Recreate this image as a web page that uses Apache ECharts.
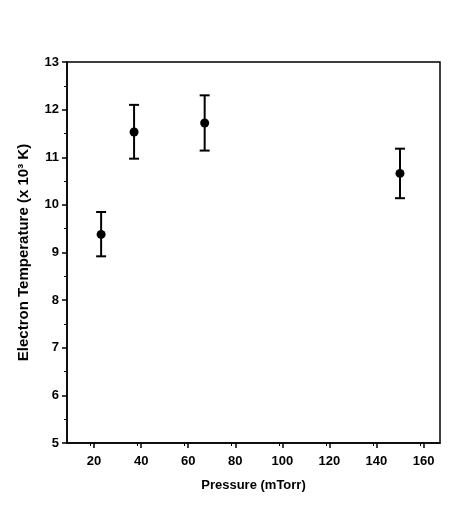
<!DOCTYPE html>
<html>
<head>
<meta charset="utf-8">
<script src="https://cdn.jsdelivr.net/npm/echarts@6/dist/echarts.min.js"></script>
<style>html,body{margin:0;padding:0;background:#fff}#c{width:474px;height:531px}</style>
</head>
<body>
<div id="c"></div>
<script>
var pressure = [23, 37, 67, 150];
var temperature = [9.38, 11.53, 11.72, 10.66];
var errHigh = [9.85, 12.1, 12.3, 11.18];
var errLow = [8.92, 10.97, 11.14, 10.14];
var xTicks = [20, 40, 60, 80, 100, 120, 140, 160];

var chart = echarts.init(document.getElementById('c'));
var font = 'Liberation Sans';
var points = pressure.map(function (p, i) { return [p, temperature[i]]; });
var bars = pressure.map(function (p, i) { return [p, errLow[i], errHigh[i]]; });

function axisCommon() {
    return {
        axisLine: {onZero: false, lineStyle: {color: '#000', width: 1.5}},
        axisTick: {inside: false, length: 5, lineStyle: {color: '#000', width: 1.5}},
        minorTick: {show: true, length: 3, splitNumber: 2, lineStyle: {color: '#000', width: 1}},
        splitLine: {show: false},
        axisLabel: {color: '#000', fontFamily: font, fontWeight: 'bold', fontSize: 13}
    };
}

var xAxis = Object.assign(axisCommon(), {
    type: 'value', min: 8.5, max: 167, interval: 20,
    name: 'Pressure (mTorr)', nameLocation: 'middle', nameGap: 36,
    nameTextStyle: {color: '#000', fontFamily: font, fontWeight: 'bold', fontSize: 13}
});
xAxis.axisLabel.customValues = xTicks;
xAxis.axisTick.customValues = xTicks;
xAxis.axisLabel.margin = 12;

var yAxis = Object.assign(axisCommon(), {
    type: 'value', min: 5, max: 13, interval: 1,
    name: 'Electron Temperature (x 10³ K)', nameLocation: 'middle', nameGap: 36,
    nameTextStyle: {color: '#000', fontFamily: font, fontWeight: 'bold', fontSize: 15}
});

var option = {
    animation: false,
    grid: {left: 67, right: 34, top: 62, bottom: 88, show: true, borderColor: '#000', borderWidth: 1.5},
    xAxis: xAxis,
    yAxis: yAxis,
    series: [
        {
            type: 'custom',
            data: bars,
            renderItem: function (params, api) {
                var x = api.value(0);
                var lo = api.coord([x, api.value(1)]);
                var hi = api.coord([x, api.value(2)]);
                var w = 5;
                var st = {stroke: '#000', lineWidth: 2};
                return {type: 'group', children: [
                    {type: 'line', shape: {x1: lo[0], y1: lo[1], x2: hi[0], y2: hi[1]}, style: st},
                    {type: 'line', shape: {x1: lo[0] - w, y1: lo[1], x2: lo[0] + w, y2: lo[1]}, style: st},
                    {type: 'line', shape: {x1: hi[0] - w, y1: hi[1], x2: hi[0] + w, y2: hi[1]}, style: st}
                ]};
            },
            z: 2
        },
        {
            type: 'scatter',
            data: points,
            symbolSize: 9,
            itemStyle: {color: '#000', opacity: 1},
            z: 3
        }
    ]
};
chart.setOption(option);
</script>
</body>
</html>
